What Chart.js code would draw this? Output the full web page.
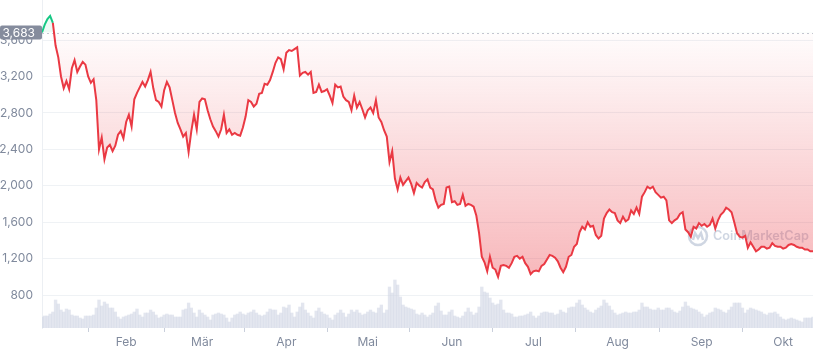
<!DOCTYPE html>
<html>
<head>
<meta charset="utf-8">
<script src="https://cdn.jsdelivr.net/npm/chart.js@4.4.0/dist/chart.umd.min.js"></script>
<style>
  html, body { margin: 0; padding: 0; background: #fff; }
  #wrap { width: 815px; height: 351px; }
</style>
</head>
<body>
<div id="wrap"><canvas id="eth-chart"></canvas></div>
<script>
"use strict";

// achsen
const monthLabels = ['Jan', 'Feb', 'Mär', 'Apr', 'Mai', 'Jun', 'Jul', 'Aug', 'Sep', 'Okt'];
const monthDays = [31, 28, 31, 30, 31, 30, 31, 31, 30, 12];
const yTicks = [800, 1200, 1600, 2000, 2400, 2800, 3200, 3600];
const OPEN_PRICE = 3683;

// kurs (USD, täglich)
const priceJan = [3683, 3770, 3830, 3865, 3790, 3540, 3410, 3200, 3070, 3150, 3060, 3290, 3380, 3250, 3310, 3360,
    3330, 3200, 3130, 3170, 2940, 2400, 2530, 2290, 2420, 2450, 2380, 2440, 2560, 2600, 2520];
const priceFeb = [2700, 2780, 2650, 2950, 3020, 3080, 3140, 3090, 3160, 3250, 3070, 2940, 2920, 2870, 3050, 3140,
    3080, 2940, 2800, 2690, 2620, 2540, 2580, 2370, 2600, 2780, 2620, 2920];
const priceMar = [2960, 2950, 2830, 2730, 2650, 2600, 2540, 2620, 2780, 2580, 2620, 2560, 2580, 2560, 2550, 2640,
    2760, 2940, 2920, 2870, 2900, 3010, 3020, 3120, 3110, 3160, 3250, 3350, 3410, 3390, 3280];
const priceApr = [3460, 3490, 3480, 3500, 3520, 3210, 3240, 3250, 3220, 3250, 3020, 3030, 3110, 3030, 3040, 3060,
    2990, 2910, 3110, 3080, 3090, 2980, 2940, 2920, 2830, 2990, 2860, 2920, 2840, 2750];
const priceMai = [2830, 2860, 2800, 2940, 2750, 2700, 2610, 2540, 2260, 2380, 2080, 1960, 2090, 2010, 2050, 2090,
    2020, 1920, 2030, 2000, 1980, 2040, 2070, 1980, 1960, 1840, 1760, 1790, 1800, 1980, 1990];
const priceJun = [1820, 1830, 1790, 1800, 1900, 1780, 1800, 1790, 1770, 1670, 1480, 1220, 1160, 1060, 1220, 1100,
    1080, 1000, 1120, 1130, 1120, 1100, 1150, 1220, 1230, 1200, 1220, 1150, 1110, 1030];
const priceJul = [1060, 1070, 1060, 1120, 1140, 1190, 1240, 1230, 1210, 1170, 1100, 1050, 1110, 1220, 1240, 1330,
    1360, 1490, 1550, 1520, 1600, 1550, 1560, 1460, 1420, 1450, 1640, 1700, 1740, 1710, 1700];
const priceAug = [1620, 1590, 1660, 1610, 1630, 1730, 1690, 1760, 1690, 1880, 1930, 1990, 1970, 1990, 1930, 1900,
    1870, 1880, 1840, 1620, 1590, 1620, 1640, 1690, 1710, 1520, 1490, 1440, 1550, 1530, 1590];
const priceSep = [1560, 1580, 1550, 1570, 1640, 1530, 1620, 1680, 1710, 1760, 1740, 1710, 1600, 1480, 1440, 1430,
    1450, 1320, 1380, 1330, 1280, 1300, 1330, 1330, 1310, 1320, 1370, 1340, 1330, 1330];
const priceOkt = [1310, 1320, 1350, 1360, 1350, 1330, 1320, 1320, 1300, 1300, 1280, 1280];

// handelsvolumen (Mrd. USD, täglich)
const volJan = [11, 12, 12, 14, 16, 28, 24, 18, 16, 19, 18, 13, 12, 12, 10, 9, 12, 12, 12, 13, 20, 28, 22, 26, 24,
    20, 20, 16, 11, 9, 11];
const volFeb = [12, 13, 14, 16, 19, 13, 11, 15, 15, 18, 16, 13, 10, 11, 13, 14, 13, 13, 11, 11, 11, 18, 19, 25, 20,
    15, 11, 18];
const volMar = [15, 13, 11, 8, 13, 14, 15, 14, 13, 10, 6, 10, 13, 14, 16, 14, 13, 15, 16, 18, 15, 13, 12, 13, 16,
    19, 18, 18, 13, 15, 21];
const volApr = [20, 23, 15, 11, 16, 21, 25, 18, 15, 12, 10, 17, 20, 16, 14, 13, 10, 8, 13, 15, 18, 15, 11, 14, 18,
    16, 18, 15, 13, 14];
const volMai = [16, 18, 16, 15, 20, 23, 15, 18, 41, 35, 48, 43, 31, 23, 21, 20, 19, 18, 14, 13, 15, 13, 11, 13, 15,
    22, 25, 17, 13, 13, 16];
const volJun = [18, 12, 11, 10, 12, 16, 20, 16, 13, 15, 21, 41, 36, 35, 30, 25, 23, 24, 28, 18, 15, 15, 14, 11, 11,
    12, 12, 13, 14, 16];
const volJul = [12, 10, 12, 15, 16, 16, 15, 15, 13, 14, 18, 16, 15, 20, 21, 21, 25, 28, 23, 20, 18, 16, 15, 18, 20,
    22, 28, 25, 22, 18, 15];
const volAug = [13, 14, 15, 16, 15, 15, 16, 16, 18, 25, 21, 21, 19, 18, 18, 20, 18, 18, 20, 20, 18, 16, 15, 17, 21,
    26, 22, 20, 19, 18, 16];
const volSep = [14, 11, 13, 15, 16, 20, 19, 18, 16, 15, 18, 21, 25, 25, 25, 20, 15, 18, 20, 19, 18, 17, 16, 14, 13,
    15, 15, 16, 14, 11];
const volOkt = [9, 8, 9, 10, 9, 8, 7, 6, 10, 10, 10, 11];

const priceMonths = [priceJan, priceFeb, priceMar, priceApr, priceMai, priceJun, priceJul, priceAug, priceSep, priceOkt];
const volMonths = [volJan, volFeb, volMar, volApr, volMai, volJun, volJul, volAug, volSep, volOkt];

const pricePoints = [];
const volPoints = [];
const monthStarts = [];
let dayOffset = 0;
monthDays.forEach((n, m) => {
    monthStarts.push(dayOffset);
    priceMonths[m].forEach((v, i) => pricePoints.push({ x: dayOffset + i, y: v }));
    volMonths[m].forEach((v, i) => volPoints.push({ x: dayOffset + i, y: v }));
    dayOffset += n;
});
const lastDay = dayOffset - 1;

const GREEN = '#16c784';
const RED = '#ea3943';
const TICK_COLOR = '#808a9d';
const WATERMARK = 'rgba(160,174,198,0.5)';

// gestrichelte Eröffnungslinie + Wasserzeichen
const backdrop = {
    id: 'backdrop',
    beforeDatasetsDraw(chart) {
        const { ctx, chartArea, scales: { y } } = chart;
        const py = Math.round(y.getPixelForValue(OPEN_PRICE)) + 0.5;
        ctx.save();
        ctx.strokeStyle = '#c3c8d2';
        ctx.lineWidth = 1;
        ctx.setLineDash([2, 3]);
        ctx.beginPath();
        ctx.moveTo(chartArea.left, py);
        ctx.lineTo(chartArea.right, py);
        ctx.stroke();
        ctx.setLineDash([]);

        // CoinMarketCap logo
        const cx = 698, cy = 236;
        ctx.strokeStyle = WATERMARK;
        ctx.lineWidth = 2.5;
        ctx.beginPath();
        ctx.arc(cx, cy, 9, 0, Math.PI * 2);
        ctx.stroke();
        ctx.beginPath();
        ctx.moveTo(cx - 5, cy + 4);
        ctx.lineTo(cx - 3, cy - 3);
        ctx.lineTo(cx, cy + 2);
        ctx.lineTo(cx + 3, cy - 3);
        ctx.lineTo(cx + 5, cy + 4);
        ctx.stroke();
        ctx.fillStyle = WATERMARK;
        let size = 17;
        ctx.font = '600 ' + size + 'px Inter, sans-serif';
        size = size * 96 / ctx.measureText('CoinMarketCap').width;
        ctx.font = '600 ' + size.toFixed(1) + 'px Inter, sans-serif';
        ctx.textAlign = 'left';
        ctx.textBaseline = 'middle';
        ctx.fillText('CoinMarketCap', 713, cy);
        ctx.restore();
    }
};

// Preisetikett links
const priceTag = {
    id: 'priceTag',
    afterDraw(chart) {
        const { ctx, scales: { y } } = chart;
        const py = y.getPixelForValue(OPEN_PRICE);
        ctx.save();
        ctx.fillStyle = '#858c9d';
        ctx.beginPath();
        ctx.roundRect(0, py - 7, 42, 14, 2);
        ctx.fill();
        ctx.fillStyle = '#ffffff';
        ctx.font = '12px Inter, sans-serif';
        ctx.textAlign = 'right';
        ctx.textBaseline = 'middle';
        ctx.fillText(OPEN_PRICE.toLocaleString('en-US'), 35, py + 0.5);
        ctx.restore();
    }
};

const ctx = document.getElementById('eth-chart').getContext('2d');
const ethChart = new Chart(ctx, {
    data: {
        datasets: [{
            type: 'line',
            label: 'Preis',
            data: pricePoints,
            yAxisID: 'y',
            order: 0,
            borderWidth: 2,
            pointRadius: 0,
            tension: 0,
            borderColor: RED,
            segment: {
                borderColor: c => (c.p0.parsed.y >= OPEN_PRICE && c.p1.parsed.y >= OPEN_PRICE) ? GREEN : RED
            },
            backgroundColor: function (context) {
                const { chart } = context;
                const { ctx, chartArea, scales } = chart;
                if (!chartArea || !scales.y) return 'rgba(234,57,67,0.1)';
                const top = scales.y.getPixelForValue(OPEN_PRICE);
                const bottom = scales.y.getPixelForValue(1000);
                const g = ctx.createLinearGradient(0, top, 0, bottom);
                g.addColorStop(0, 'rgba(234,57,67,0.01)');
                g.addColorStop(1, 'rgba(234,57,67,0.36)');
                return g;
            },
            fill: {
                target: { value: OPEN_PRICE },
                above: 'rgba(22,199,132,0.08)'
            }
        }, {
            type: 'bar',
            label: 'Volumen',
            data: volPoints,
            yAxisID: 'yv',
            order: 1,
            backgroundColor: 'rgba(208,214,228,0.6)',
            barPercentage: 1,
            categoryPercentage: 1,
            borderWidth: 0
        }]
    },
    options: {
        responsive: true,
        maintainAspectRatio: false,
        animation: false,
        layout: {
            autoPadding: false,
            padding: { left: 0, right: 2, top: 0, bottom: 0 }
        },
        scales: {
            x: {
                type: 'linear',
                min: 0,
                max: lastDay,
                offset: false,
                afterBuildTicks: axis => {
                    axis.ticks = monthStarts.slice(1).map(v => ({ value: v }));
                },
                afterFit: scale => {
                    scale.height = 23;
                    scale.paddingLeft = 0;
                    scale.paddingRight = 0;
                },
                ticks: {
                    autoSkip: false,
                    maxRotation: 0,
                    padding: 3,
                    color: TICK_COLOR,
                    font: { family: 'Inter', size: 12 },
                    callback: value => monthLabels[monthStarts.indexOf(value)]
                },
                grid: {
                    drawOnChartArea: false,
                    drawTicks: true,
                    tickLength: 4,
                    color: '#c9cfdb'
                },
                border: { display: false }
            },
            y: {
                position: 'left',
                min: 438,
                max: 4040,
                afterBuildTicks: axis => {
                    axis.ticks = yTicks.map(v => ({ value: v }));
                },
                afterFit: scale => {
                    scale.width = 42;
                    scale.paddingTop = 0;
                    scale.paddingBottom = 0;
                },
                ticks: {
                    padding: 9,
                    color: TICK_COLOR,
                    font: { family: 'Inter', size: 12 },
                    callback: value => value.toLocaleString('en-US')
                },
                grid: {
                    drawTicks: false,
                    color: '#eff2f5'
                },
                border: { display: true, color: '#eceff3' }
            },
            yv: {
                display: false,
                min: 0,
                max: 328
            }
        },
        plugins: {
            legend: { display: false },
            tooltip: { enabled: false }
        }
    },
    plugins: [backdrop, priceTag]
});
</script>
</body>
</html>
